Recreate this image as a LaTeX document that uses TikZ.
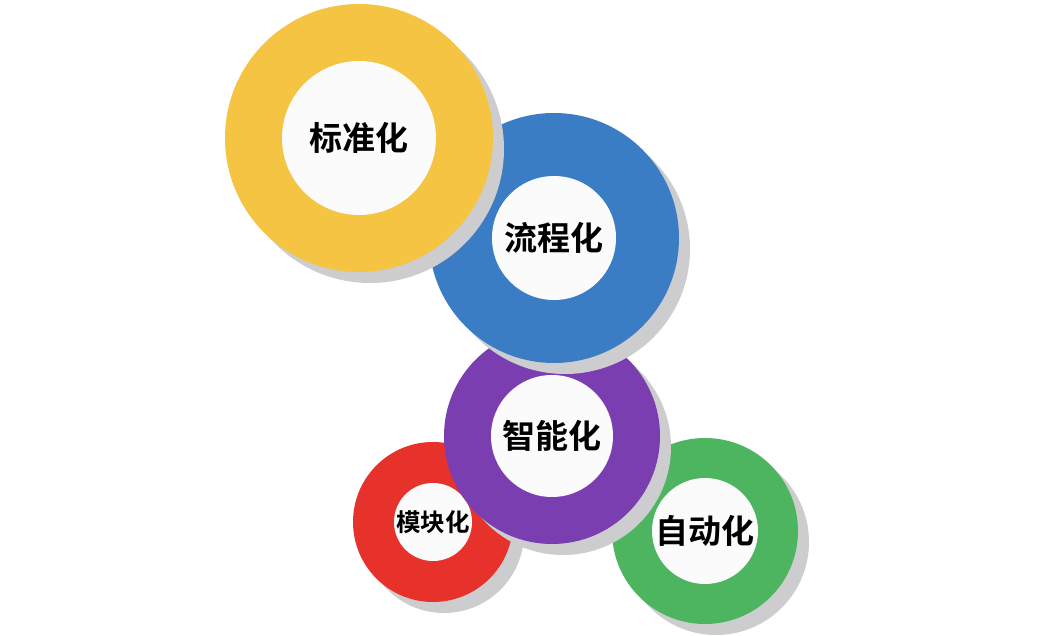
\documentclass[tikz,border=0pt]{standalone}
\usepackage{fontspec}
\newfontfamily\cjk{Noto Sans CJK SC Bold}
\definecolor{cyellow}{HTML}{F6C443}
\definecolor{cblue}{HTML}{3B7DC5}
\definecolor{cpurple}{HTML}{7A3EB1}
\definecolor{cred}{HTML}{E7322B}
\definecolor{cgreen}{HTML}{4DB460}
\definecolor{cshadow}{HTML}{CDCDCF}
\definecolor{chole}{HTML}{FBFBFB}
\tikzset{
  ringlabel/.style={font=\cjk\fontsize{#1}{#1}\selectfont, text=black, inner sep=0pt},
}
% \ringdraw{name}{x}{y}{outer r}{inner r}{colour}{label}{font size}
\newcommand{\ringdraw}[8]{%
  \fill[cshadow] (#2+11,#3+11) circle (#4);
  \fill[#6] (#2,#3) circle (#4);
  \fill[chole] (#2,#3) circle (#5);
  \node[ringlabel=#8] (#1) at (#2,#3) {#7};
}
\begin{document}
\begin{tikzpicture}[x=1pt,y=-1pt]
\fill[white] (0,0) rectangle (1050,636);
\useasboundingbox (0,0) rectangle (1050,636);
\ringdraw{mokuai}{433}{522}{80}{39}{cred}{模块化}{24.5}
\ringdraw{zidong}{705}{531}{93}{53}{cgreen}{自动化}{33}
\ringdraw{zhineng}{552}{436}{108}{61}{cpurple}{智能化}{33}
\ringdraw{liucheng}{554}{238}{125}{62}{cblue}{流程化}{33}
\ringdraw{biaozhun}{359}{138}{134}{77}{cyellow}{标准化}{33}
\end{tikzpicture}
\end{document}
